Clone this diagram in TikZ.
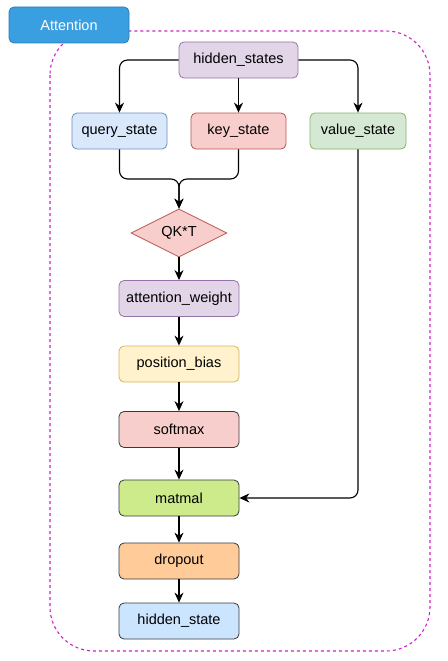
\documentclass[tikz,border=0pt]{standalone}
\usepackage{fontspec}
\setmainfont{Liberation Sans}
\usetikzlibrary{arrows.meta,shapes.geometric}
\definecolor{attfill}{HTML}{3A9FE0}
\definecolor{attline}{HTML}{2D7CB8}
\definecolor{purfill}{HTML}{E1D5E7}
\definecolor{purline}{HTML}{9673A6}
\definecolor{bluefill}{HTML}{DAE8FC}
\definecolor{blueline}{HTML}{6C8EBF}
\definecolor{redfill}{HTML}{F8CECC}
\definecolor{redline}{HTML}{B85450}
\definecolor{grnfill}{HTML}{D5E8D4}
\definecolor{grnline}{HTML}{82B366}
\definecolor{yelfill}{HTML}{FFF2CC}
\definecolor{yelline}{HTML}{D6B656}
\definecolor{darkline}{HTML}{36393D}
\definecolor{limefill}{HTML}{CDEB8B}
\definecolor{orgfill}{HTML}{FFCC99}
\definecolor{skyfill}{HTML}{CCE5FF}
\definecolor{frame}{HTML}{CC22CC}
\tikzset{
  box/.style={draw, rounded corners=5, line width=0.8, minimum width=120,
    minimum height=36, inner sep=0, font=\fontsize{14.5}{16}\selectfont},
  arr/.style={line width=1.1, rounded corners=8, -{Stealth[length=10,width=9]}},
}

\begin{document}
\begin{tikzpicture}[x=1pt,y=-1pt]
		%%%%% START %%%%%
		\useasboundingbox (0,0) rectangle (447,661);
		
		\draw[frame, line width=1.1, dash pattern=on 3 off 3, rounded corners=44] (50,31) rectangle (430,651);
		
		\node[box, fill=attfill, draw=attline, text=white] (att) at (69,25) {Attention};
		
		\node[box, fill=purfill, draw=purline, minimum width=119] (hs) at (238.5,60) {hidden\_states};
		
		\node[box, fill=bluefill, draw=blueline, minimum width=95] (qs) at (119.5,131) {query\_state};
		\node[box, fill=redfill, draw=redline, minimum width=95] (ks) at (238.5,131) {key\_state};
		\node[box, fill=grnfill, draw=grnline, minimum width=96] (vs) at (358,131) {value\_state};
		
		\node[box, shape=diamond, rounded corners=0, fill=redfill, draw=redline, minimum width=96, minimum height=48, aspect=2] (qk) at (179,233) {QK*T};
		
		\node[box, fill=purfill, draw=purline] (aw) at (179,298.5) {attention\_weight};
		\node[box, fill=yelfill, draw=yelline] (pb) at (179,364) {position\_bias};
		\node[box, fill=redfill, draw=darkline] (sm) at (179,429.5) {softmax};
		\node[box, fill=limefill, draw=darkline] (mm) at (179,498) {matmal};
		\node[box, fill=orgfill, draw=darkline] (dp) at (179,561) {dropout};
		\node[box, fill=skyfill, draw=darkline] (ho) at (179,621) {hidden\_state};
		
		\coordinate (jn) at (179,179);
		
		\draw[arr] (hs.west) -| (qs.north);
		\draw[arr] (hs) -- (ks);
		\draw[arr] (hs.east) -| (vs.north);
		
		\draw[arr] (qs.south) |- (jn) -- (qk.north);
		\draw[arr] (ks.south) |- (jn) -- (qk.north);
		
		\draw[arr] (qk) -- (aw);
		\draw[arr] (aw) -- (pb);
		\draw[arr] (pb) -- (sm);
		\draw[arr] (sm) -- (mm);
		\draw[arr] (vs.south) |- (mm.east);
		\draw[arr] (mm) -- (dp);
		\draw[arr] (dp) -- (ho);
		%%%%% END %%%%%
\end{tikzpicture}
\end{document}
